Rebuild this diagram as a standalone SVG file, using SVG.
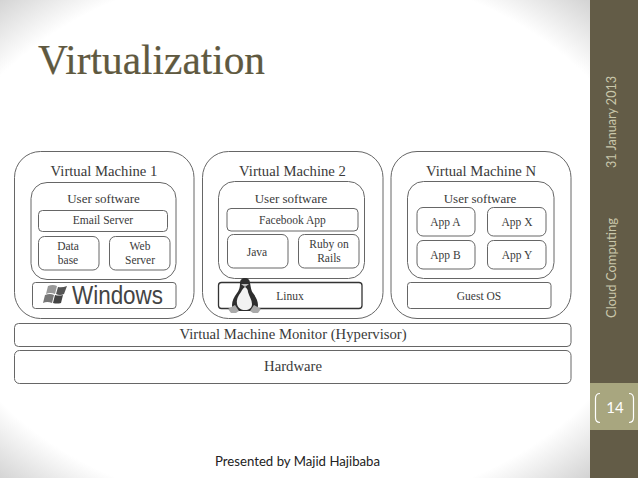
<svg xmlns="http://www.w3.org/2000/svg" width="638" height="478" viewBox="0 0 638 478">
<defs>
<radialGradient id="bg" cx="46%" cy="50%" r="68%"><stop offset="0" stop-color="#ffffff"/><stop offset="0.84" stop-color="#ffffff"/><stop offset="1" stop-color="#d4d4d4"/></radialGradient>
</defs>
<style>
.b{fill:#fff;stroke:#666;stroke-width:1}
.t{font-family:"Liberation Serif",serif;fill:#3a3a3a;text-anchor:middle}
.h{font-size:14.700px}
.u{font-size:13px}
.s{font-size:11.500px}
.side{font-family:Lato,"Liberation Sans",sans-serif;fill:#c9c7ab;font-size:13.500px}
</style>
<rect width="638" height="478" fill="url(#bg)"/>
<rect x="12" y="150" width="564" height="238" fill="#fff"/>
<text x="38" y="74" font-family="Liberation Serif,serif" font-size="42" fill="#5f5940" stroke="#5f5940" stroke-width="0.200" textLength="227" lengthAdjust="spacingAndGlyphs">Virtualization</text>

<g id="vm1">
<rect class="b" x="14.500" y="151.500" width="179.500" height="167" rx="26"/>
<text class="t h" x="104" y="176">Virtual Machine 1</text>
<rect class="b" x="31" y="182.500" width="145" height="97" rx="16"/>
<text class="t u" x="103.500" y="203">User software</text>
<g id="vm1-email"><rect class="b" x="38.500" y="210.500" width="129" height="21" rx="4"/><text class="t s" x="103" y="224">Email Server</text></g>
<g id="vm1-db"><rect class="b" x="38.500" y="236.500" width="60.500" height="33.500" rx="6"/><text class="t s" x="68" y="250">Data</text><text class="t s" x="68" y="264">base</text></g>
<g id="vm1-web"><rect class="b" x="109.500" y="236.500" width="60.500" height="33.500" rx="6"/><text class="t s" x="140" y="250">Web</text><text class="t s" x="140" y="264">Server</text></g>
<g id="vm1-windows"><rect class="b" x="32.500" y="282.500" width="143.500" height="26" rx="3"/>
<path d="M48 286q5-2 9 0l-2 8q-5-2-9 0z" fill="#999"/><path d="M58 287q4 1 9-1l-3 8q-4 2-8 0z" fill="#555"/><path d="M45 295q5-2 9 0l-2 8q-5-2-9 0z" fill="#777"/><path d="M55 295q4 1 8 0l-2 8q-4 1-8 0z" fill="#444"/>
<text x="72" y="304" font-family="Liberation Sans,sans-serif" font-size="25" fill="#444" textLength="91" lengthAdjust="spacingAndGlyphs">Windows</text></g>
</g>

<g id="vm2">
<rect class="b" x="202.500" y="151.500" width="180.500" height="167" rx="26"/>
<text class="t h" x="292.500" y="176">Virtual Machine 2</text>
<rect class="b" x="218.500" y="181.500" width="146" height="97" rx="16"/>
<text class="t u" x="291" y="203">User software</text>
<g id="vm2-facebook"><rect class="b" x="227" y="208.500" width="131" height="22.500" rx="4"/><text class="t s" x="292.500" y="224">Facebook App</text></g>
<g id="vm2-java"><rect class="b" x="227.500" y="234.500" width="60.500" height="33.500" rx="6"/><text class="t s" x="257" y="256">Java</text></g>
<g id="vm2-ruby"><rect class="b" x="298.500" y="234.500" width="60.500" height="33.500" rx="6"/><text class="t s" x="329" y="248">Ruby on</text><text class="t s" x="329" y="262">Rails</text></g>
<g id="vm2-linux"><rect x="218.500" y="282.500" width="143.500" height="26" rx="3" fill="#fff" stroke="#333" stroke-width="1.300"/>
<text class="t s" x="290" y="300">Linux</text>
<path d="M245 278c-3 0-5 2-5 5 0 5-1 7-3 10-3 4-5 8-5 12 0 3 1 5 3 6h20c2-1 3-3 3-6 0-4-2-8-5-12-2-3-2-5-3-10 0-3-2-5-5-5z" fill="#2e2e2e"/>
<path d="M245 287c-2 1-3 3-4 5-3 4-5 8-4 12 1 4 4 6 8 6s7-2 7-6c0-4-3-8-4-12 0-2-1-4-3-5z" fill="#f2f2f2"/>
<path d="M241 284h8l-4 3z" fill="#bbb"/>
<path d="M228 309l7-4 4 6-3 2h-5zM261 309l-7-4-4 6 3 2h5z" fill="#aaa"/>
</g>
</g>

<g id="vmn">
<rect class="b" x="391" y="151.500" width="180" height="167" rx="26"/>
<text class="t h" x="481" y="176">Virtual Machine N</text>
<rect class="b" x="407.500" y="181.500" width="146.500" height="97" rx="16"/>
<text class="t u" x="480" y="203">User software</text>
<g id="vmn-a"><rect class="b" x="417" y="207.500" width="58" height="28.500" rx="6"/><text class="t s" x="445.500" y="226">App A</text></g>
<g id="vmn-x"><rect class="b" x="487.500" y="207.500" width="58.500" height="28.500" rx="6"/><text class="t s" x="517" y="226">App X</text></g>
<g id="vmn-b"><rect class="b" x="417" y="240.500" width="58" height="28.500" rx="6"/><text class="t s" x="445.500" y="259">App B</text></g>
<g id="vmn-y"><rect class="b" x="487.500" y="240.500" width="58.500" height="28.500" rx="6"/><text class="t s" x="517" y="259">App Y</text></g>
<g id="vmn-guest"><rect class="b" x="407.500" y="282.500" width="143.500" height="26" rx="3"/><text class="t s" x="479" y="300">Guest OS</text></g>
</g>

<g id="hypervisor"><rect class="b" x="14.500" y="323.500" width="556.500" height="23" rx="4"/><text class="t h" x="293" y="339">Virtual Machine Monitor (Hypervisor)</text></g>
<g id="hardware"><rect class="b" x="14.500" y="350.500" width="556.500" height="33" rx="5"/><text class="t h" x="293" y="371">Hardware</text></g>

<g id="sidebar">
<rect x="590" y="0" width="48" height="478" fill="#635c47"/>
<rect x="590" y="383" width="48" height="47" fill="#a8a67f"/>
<text class="side" transform="translate(616 168) rotate(-90)" textLength="92" lengthAdjust="spacingAndGlyphs">31 January 2013</text>
<text class="side" transform="translate(616 318) rotate(-90)" textLength="100" lengthAdjust="spacingAndGlyphs">Cloud Computing</text>
<path d="M600 393.500q-4.500 0-4.500 5v19q0 5 4.500 5M629 393.500q4.500 0 4.500 5v19q0 5-4.500 5" fill="none" stroke="#fff" stroke-width="1.200"/>
<text x="615" y="413" font-family="Lato,Liberation Sans,sans-serif" font-size="15" fill="#fff" text-anchor="middle">14</text>
</g>
<text x="215" y="466" font-family="Lato,Liberation Sans,sans-serif" font-size="14" fill="#222" textLength="165" lengthAdjust="spacingAndGlyphs">Presented by Majid Hajibaba</text>
</svg>
